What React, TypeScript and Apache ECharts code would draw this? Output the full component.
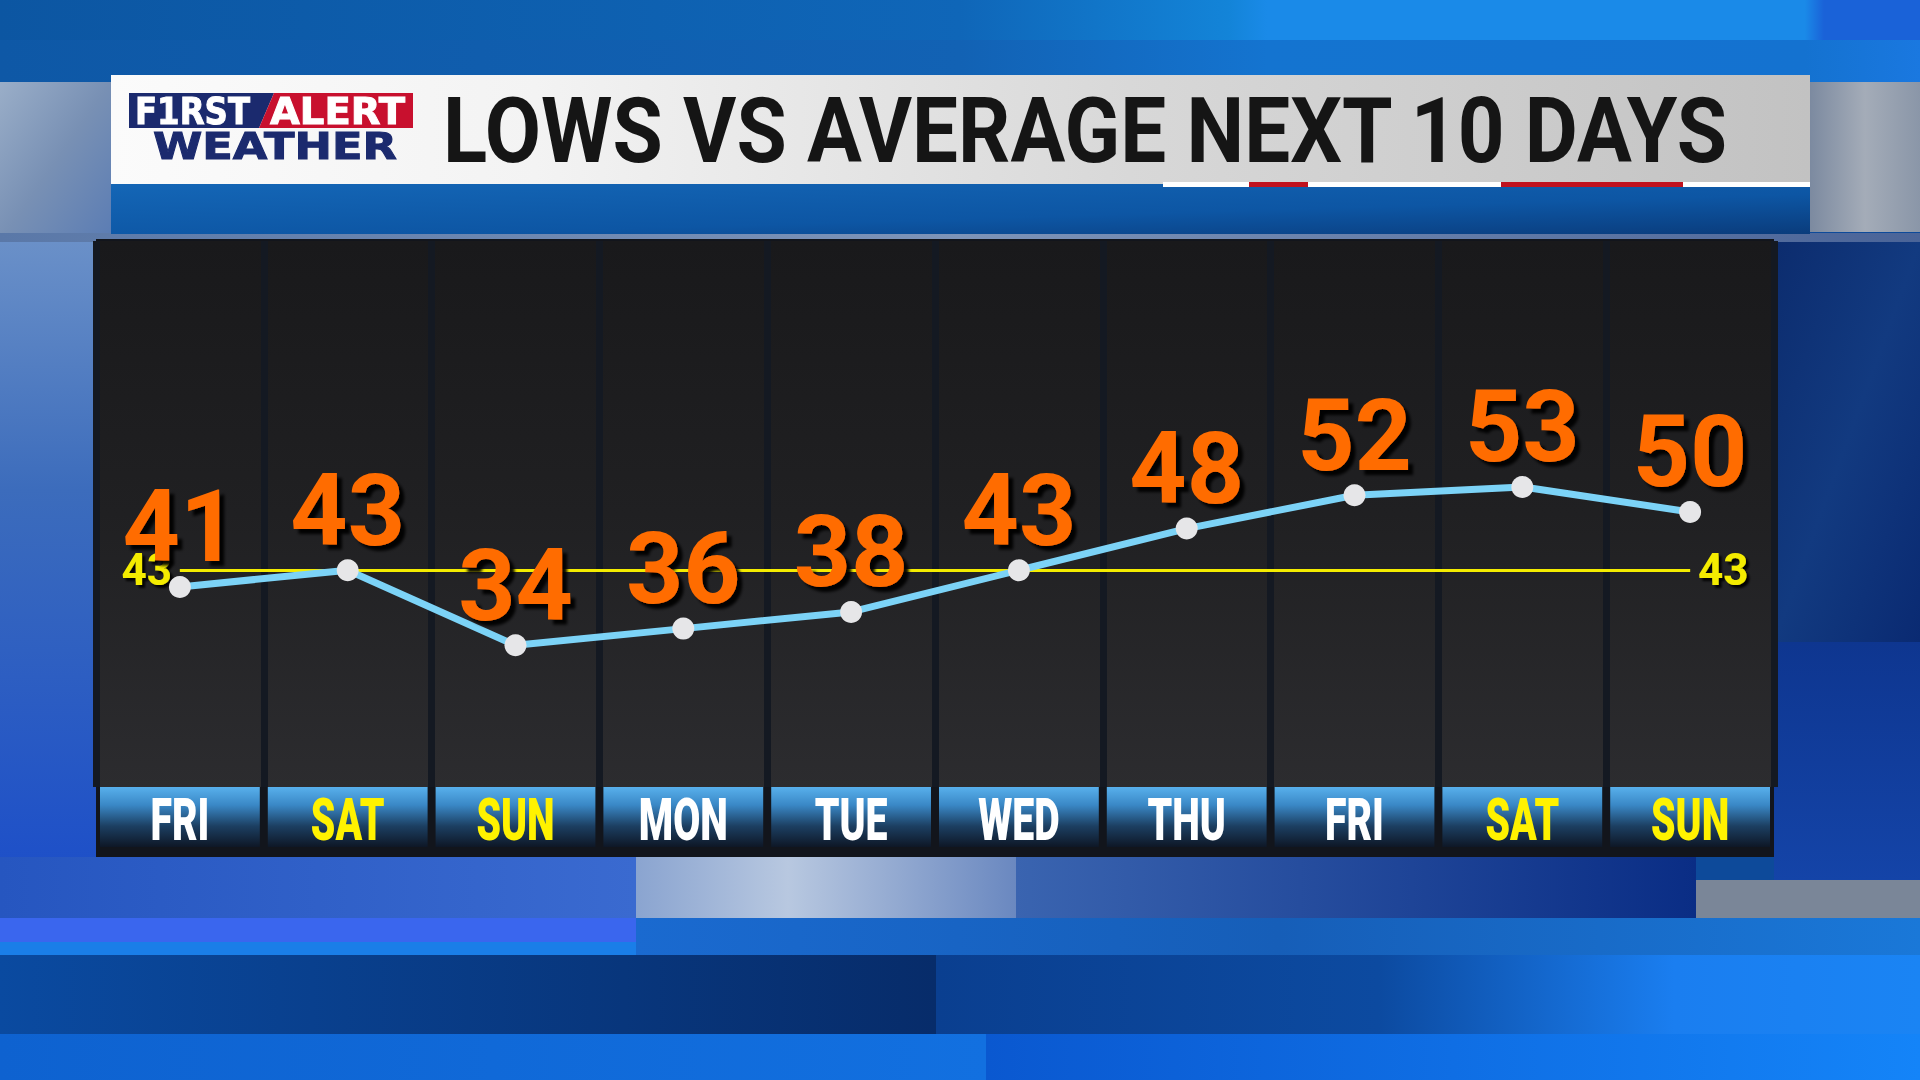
import React, { useEffect, useRef } from 'react';
import * as echarts from 'echarts';

// ---- data ----
const days: string[] = ['FRI', 'SAT', 'SUN', 'MON', 'TUE', 'WED', 'THU', 'FRI', 'SAT', 'SUN'];
const lows: number[] = [41, 43, 34, 36, 38, 43, 48, 52, 53, 50];
const averageLow = 43;
const weekendDays: string[] = ['SAT', 'SUN'];
const titleText = 'LOWS VS AVERAGE NEXT 10 DAYS';
const logoTop1 = 'F1RST';
const logoTop2 = 'ALERT';
const logoBottom = 'WEATHER';

const yMin = 17;
const yMax = 82.5;

const measure = (text: string, font: string) => {
  const ctx = document.createElement('canvas').getContext('2d');
  if (!ctx) return 0;
  ctx.font = font;
  return ctx.measureText(text).width;
};
const fitScale = (text: string, font: string, target: number) => {
  const w = measure(text, font);
  return w > 0 ? target / w : 1;
};

const lg = (x1: number, y1: number, x2: number, y2: number, stops: [number, string][]) =>
  new echarts.graphic.LinearGradient(x1, y1, x2, y2, stops.map(([offset, color]) => ({ offset, color })));

export default function App() {
  const ref = useRef<HTMLDivElement>(null);

  useEffect(() => {
    if (!ref.current) return;
    const chart = echarts.init(ref.current, null, { renderer: 'svg' });

    const shadowText = {
      textShadowColor: 'rgba(0,0,0,0.95)',
      textShadowBlur: 3,
      textShadowOffsetX: 5,
      textShadowOffsetY: 5,
    };

    chart.setOption({
      animation: false,
      backgroundColor: 'transparent',
      grid: { left: 96, width: 1678, top: 241, height: 546, containLabel: false },
      xAxis: {
        type: 'category',
        data: days,
        boundaryGap: true,
        z: 3,
        axisLine: { show: false },
        axisTick: { show: false },
        axisLabel: { show: false },
        splitLine: { show: true, interval: 0, lineStyle: { color: '#141922', width: 7 } },
      },
      yAxis: { type: 'value', min: yMin, max: yMax, show: false, splitLine: { show: false } },
      series: [
        {
          type: 'line',
          data: lows,
          z: 5,
          symbol: 'circle',
          symbolSize: 22,
          itemStyle: { color: '#e6e6e8' },
          lineStyle: { color: '#7cd3f7', width: 7 },
          label: {
            show: true,
            position: 'top',
            distance: 4,
            color: '#ff6c00',
            fontFamily: 'Roboto',
            fontWeight: 'bold',
            fontSize: 100,
            lineHeight: 90,
            ...shadowText,
          },
          markLine: {
            silent: true,
            symbol: ['none', 'none'],
            z: 4,
            lineStyle: { color: '#f4ec00', width: 3, type: 'solid' },
            label: {
              show: true,
              formatter: () => String(averageLow),
              color: '#f4ec00',
              fontFamily: 'Roboto',
              fontWeight: 'bold',
              fontSize: 44,
              distance: 8,
              textShadowColor: 'rgba(0,0,0,0.95)',
              textShadowBlur: 2,
              textShadowOffsetX: 3,
              textShadowOffsetY: 3,
            },
            data: [
              [{ coord: [0, averageLow], label: { position: 'start' } }, { coord: [days.length - 1, averageLow] }],
              [{ coord: [0, averageLow], label: { position: 'end' } }, { coord: [days.length - 1, averageLow] }],
            ],
          },
        },
      ],
    });

    // positions of the day cells from the category axis scale
    const centers = days.map((_, i) => chart.convertToPixel({ xAxisIndex: 0 }, i) as number);
    const step = centers.length > 1 ? centers[1] - centers[0] : 168;
    const axisBottom = chart.convertToPixel({ yAxisIndex: 0 }, yMin) as number;
    const cellH = 60;

    const titleFont = 'bold 90px Roboto';
    const logoFont = '900 38px "DejaVu Sans"';
    const sTitle = fitScale(titleText, titleFont, 1287);
    const sL1 = fitScale(logoTop1, logoFont, 115);
    const sL2 = fitScale(logoTop2, logoFont, 135);
    const sL3 = fitScale(logoBottom, logoFont, 244);
    const dayFont = '900 60px Roboto';
    const sDay = fitScale('MON', dayFont, 89);

    const bg: any[] = [
      { type: 'rect', shape: { x: 0, y: 0, width: 1920, height: 1080 }, style: { fill: '#0d4a9a' } },
      { type: 'rect', shape: { x: 0, y: 0, width: 1920, height: 40 }, style: { fill: lg(0, 0, 1, 0, [[0, '#0c56a2'], [0.5, '#0f66b8'], [0.64, '#1384d8'], [0.66, '#1a8ae8'], [0.94, '#1a8ae8'], [0.95, '#1a62d8'], [1, '#1a62d8']]) } },
      { type: 'rect', shape: { x: 0, y: 40, width: 1920, height: 42 }, style: { fill: lg(0, 0, 1, 0, [[0, '#0e58a6'], [0.5, '#1262b4'], [0.66, '#1474d0'], [0.94, '#1472d0'], [1, '#1a78e0']]) } },
      { type: 'rect', shape: { x: 0, y: 82, width: 111, height: 160 }, style: { fill: lg(0, 0, 1, 1, [[0, '#9aaec8'], [0.5, '#7890b4'], [1, '#5a7cb4']]) } },
      { type: 'rect', shape: { x: 1810, y: 82, width: 110, height: 150 }, style: { fill: lg(0, 0, 1, 0, [[0, '#7c8aa0'], [0.5, '#a4acb8'], [1, '#8a96a8']]) } },
      { type: 'rect', shape: { x: 0, y: 233, width: 1920, height: 10 }, style: { fill: lg(0, 0, 1, 0, [[0, '#5a78a8'], [0.5, '#7e94b8'], [1, '#4a6498']]) } },
      { type: 'rect', shape: { x: 0, y: 242, width: 96, height: 620 }, style: { fill: lg(0, 0, 0, 1, [[0, '#6a90c8'], [0.4, '#3c6cbc'], [1, '#1e50c8']]) } },
      { type: 'rect', shape: { x: 1774, y: 242, width: 146, height: 400 }, style: { fill: lg(0, 0, 1, 1, [[0, '#0c2c6e'], [0.5, '#123a80'], [1, '#0a2a72']]) } },
      { type: 'rect', shape: { x: 1774, y: 642, width: 146, height: 240 }, style: { fill: lg(0, 0, 0, 1, [[0, '#0e3690'], [1, '#1444a8']]) } },
      { type: 'rect', shape: { x: 0, y: 857, width: 636, height: 61 }, style: { fill: lg(0, 0, 1, 0, [[0, '#2656c0'], [1, '#3a6ad0']]) } },
      { type: 'rect', shape: { x: 636, y: 857, width: 380, height: 61 }, style: { fill: lg(0, 0, 1, 0, [[0, '#8aa4d0'], [0.4, '#b8c8e0'], [1, '#6a88c0']]) } },
      { type: 'rect', shape: { x: 1016, y: 857, width: 680, height: 61 }, style: { fill: lg(0, 0, 1, 0, [[0, '#3a64b0'], [1, '#0a2d85']]) } },
      { type: 'rect', shape: { x: 1696, y: 880, width: 224, height: 38 }, style: { fill: '#7a8698' } },
      { type: 'rect', shape: { x: 0, y: 918, width: 636, height: 24 }, style: { fill: '#3a66ee' } },
      { type: 'rect', shape: { x: 0, y: 942, width: 636, height: 13 }, style: { fill: '#1a7ee8' } },
      { type: 'rect', shape: { x: 636, y: 918, width: 1284, height: 37 }, style: { fill: lg(0, 0, 1, 0, [[0, '#1a6ad0'], [0.5, '#165eb8'], [1, '#1a78d8']]) } },
      { type: 'rect', shape: { x: 0, y: 955, width: 936, height: 79 }, style: { fill: lg(0, 0, 1, 0, [[0, '#0a4aa0'], [1, '#072c6a']]) } },
      { type: 'rect', shape: { x: 936, y: 955, width: 984, height: 79 }, style: { fill: lg(0, 0, 1, 0, [[0, '#0a3f90'], [0.45, '#0c4aa0'], [0.75, '#1a7ef0'], [1, '#1a84f4']]) } },
      { type: 'rect', shape: { x: 0, y: 1034, width: 986, height: 46 }, style: { fill: lg(0, 0, 1, 0, [[0, '#0e62d0'], [1, '#1270e0']]) } },
      { type: 'rect', shape: { x: 986, y: 1034, width: 934, height: 46 }, style: { fill: lg(0, 0, 1, 0, [[0, '#0a58d0'], [1, '#1484f8']]) } },
    ];

    const banner: any[] = [
      { type: 'rect', shape: { x: 111, y: 75, width: 1699, height: 109 }, style: { fill: lg(0, 0, 1, 0, [[0, '#fbfbfb'], [0.25, '#f3f3f3'], [0.6, '#d8d8d8'], [1, '#c2c2c2']]) } },
      { type: 'rect', shape: { x: 111, y: 184, width: 1699, height: 50 }, style: { fill: lg(0, 0, 1, 1, [[0, '#1466b6'], [0.6, '#0d56a4'], [1, '#0a3c7c']]) } },
      { type: 'rect', shape: { x: 1163, y: 182, width: 647, height: 5 }, style: { fill: '#ffffff' } },
      { type: 'rect', shape: { x: 1249, y: 182, width: 59, height: 5 }, style: { fill: '#c0121e' } },
      { type: 'rect', shape: { x: 1501, y: 182, width: 182, height: 5 }, style: { fill: '#c0121e' } },
      { type: 'polygon', shape: { points: [[129, 93], [274, 93], [259, 128], [129, 128]] }, style: { fill: '#1b2a6e' } },
      { type: 'polygon', shape: { points: [[274, 93], [413, 93], [413, 128], [259, 128]] }, style: { fill: '#c8102e' } },
      { type: 'text', x: 135, y: 111, scaleX: sL1, style: { text: logoTop1, font: logoFont, fill: '#ffffff', textVerticalAlign: 'middle', stroke: '#ffffff', lineWidth: 1 } },
      { type: 'text', x: 270, y: 111, scaleX: sL2, style: { text: logoTop2, font: logoFont, fill: '#ffffff', textVerticalAlign: 'middle', stroke: '#ffffff', lineWidth: 1 } },
      { type: 'text', x: 153, y: 146, scaleX: sL3, style: { text: logoBottom, font: logoFont, fill: '#1b2a6e', textVerticalAlign: 'middle', stroke: '#1b2a6e', lineWidth: 1 } },
      { type: 'text', x: 443, y: 131, scaleX: sTitle, style: { text: titleText, font: titleFont, fill: '#151515', textVerticalAlign: 'middle' } },
    ];

    const panel: any[] = [
      { type: 'rect', shape: { x: 96, y: 239, width: 1678, height: 618 }, style: { fill: '#12151c' } },
      { type: 'rect', shape: { x: 99, y: 241, width: 1672, height: axisBottom - 241 }, style: { fill: lg(0, 0, 0, 1, [[0, '#19191b'], [0.5, '#202022'], [1, '#2c2c2f']]) } },
    ];

    const cells: any[] = [];
    centers.forEach((cx, i) => {
      cells.push({
        type: 'rect',
        z: 6,
        shape: { x: cx - step / 2 + 4, y: axisBottom, width: step - 8, height: cellH },
        style: { fill: lg(0, 0, 0, 1, [[0, '#58b0ec'], [0.3, '#3a88c6'], [0.65, '#1c3f62'], [1, '#0e1726']]) },
      });
      cells.push({
        type: 'text',
        z: 7,
        x: cx,
        y: axisBottom + cellH / 2 + 2,
        scaleX: sDay,
        style: {
          text: days[i],
          font: dayFont,
          fill: weekendDays.includes(days[i]) ? '#fff200' : '#ffffff',
          textAlign: 'center',
          textVerticalAlign: 'middle',
          shadowColor: 'rgba(0,0,0,0.45)',
          shadowBlur: 3,
          shadowOffsetX: 2,
          shadowOffsetY: 2,
        },
      });
    });

    chart.setOption({ graphic: { elements: [...bg, ...banner, ...panel, ...cells] } });

    return () => chart.dispose();
  }, []);

  return <div ref={ref} style={{ position: 'fixed', left: 0, top: 0, width: 1920, height: 1080 }} />;
}
